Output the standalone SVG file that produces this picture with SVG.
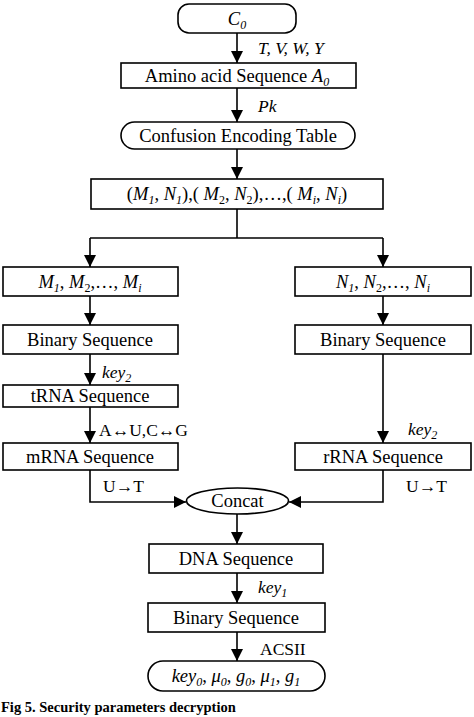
<svg xmlns="http://www.w3.org/2000/svg" width="474" height="717" viewBox="0 0 474 717">
<style>
.box{fill:#fff;stroke:#000;stroke-width:1.6}
.ln{fill:none;stroke:#000;stroke-width:1.6}
.t{font-family:"Liberation Serif","Times New Roman",serif;font-size:18.5px;fill:#000;text-anchor:middle}
.lb{font-family:"Liberation Serif","Times New Roman",serif;font-size:17.5px;fill:#000}
.i{font-style:italic}
.cap{font-family:"Liberation Serif","Times New Roman",serif;font-size:14.5px;font-weight:bold;fill:#000}
</style>
<defs>
<marker id="ah" markerUnits="userSpaceOnUse" markerWidth="12" markerHeight="12" refX="12" refY="6" orient="auto">
<path d="M0,0 L12,6 L0,12 z" fill="#000"/>
</marker>
</defs>
<rect width="474" height="717" fill="#fff"/>

<g id="connectors">
<line class="ln" x1="237" y1="33" x2="237" y2="63" marker-end="url(#ah)"/>
<line class="ln" x1="237" y1="88" x2="237" y2="122" marker-end="url(#ah)"/>
<line class="ln" x1="237" y1="149" x2="237" y2="179" marker-end="url(#ah)"/>
<line class="ln" x1="237" y1="209" x2="237" y2="238"/>
<polyline class="ln" points="90,238 383,238"/>
<line class="ln" x1="90" y1="238" x2="90" y2="267" marker-end="url(#ah)"/>
<line class="ln" x1="383" y1="238" x2="383" y2="267" marker-end="url(#ah)"/>
<line class="ln" x1="90" y1="296" x2="90" y2="325" marker-end="url(#ah)"/>
<line class="ln" x1="383" y1="296" x2="383" y2="325" marker-end="url(#ah)"/>
<line class="ln" x1="90" y1="354" x2="90" y2="385" marker-end="url(#ah)"/>
<line class="ln" x1="90" y1="407" x2="90" y2="443" marker-end="url(#ah)"/>
<line class="ln" x1="383" y1="354" x2="383" y2="443" marker-end="url(#ah)"/>
<polyline class="ln" points="90,470 90,502 186,502" marker-end="url(#ah)"/>
<polyline class="ln" points="383,470 383,502 289,502" marker-end="url(#ah)"/>
<line class="ln" x1="237" y1="514" x2="237" y2="544" marker-end="url(#ah)"/>
<line class="ln" x1="237" y1="573" x2="237" y2="603" marker-end="url(#ah)"/>
<line class="ln" x1="237" y1="632" x2="237" y2="661" marker-end="url(#ah)"/>
</g>

<g id="labels">
<text class="lb i" x="258" y="54">T, V, W, Y</text>
<text class="lb i" x="258" y="112">Pk</text>
<text class="lb" x="102" y="378"><tspan class="i">key</tspan><tspan class="i" font-size="12" dy="4">2</tspan></text>
<text class="lb" x="99" y="436">A↔U,C↔G</text>
<text class="lb" x="408" y="435"><tspan class="i">key</tspan><tspan class="i" font-size="12" dy="4">2</tspan></text>
<text class="lb" x="103" y="492">U→T</text>
<text class="lb" x="406" y="492">U→T</text>
<text class="lb" x="258" y="593"><tspan class="i">key</tspan><tspan class="i" font-size="12" dy="4">1</tspan></text>
<text class="lb" x="260" y="655">ACSII</text>
</g>

<g id="n-c0">
<rect class="box" x="178" y="4" width="118" height="29" rx="11"/>
<text class="t" x="237" y="25"><tspan class="i">C</tspan><tspan class="i" font-size="12" dy="4">0</tspan></text>
</g>
<g id="n-amino">
<rect class="box" x="121" y="63" width="235" height="25"/>
<text class="t" x="237" y="82">Amino acid Sequence <tspan class="i">A</tspan><tspan class="i" font-size="12" dy="4">0</tspan></text>
</g>
<g id="n-table">
<rect class="box" x="121" y="122" width="234" height="27" rx="13.5"/>
<text class="t" x="238" y="142">Confusion Encoding Table</text>
</g>
<g id="n-pairs">
<rect class="box" x="91" y="179" width="292" height="30"/>
<text class="t" x="237" y="200">(<tspan class="i">M</tspan><tspan class="i" font-size="12" dy="4">1</tspan><tspan dy="-4">, </tspan><tspan class="i">N</tspan><tspan class="i" font-size="12" dy="4">1</tspan><tspan dy="-4">),( </tspan><tspan class="i">M</tspan><tspan font-size="12" dy="4">2</tspan><tspan dy="-4">, </tspan><tspan class="i">N</tspan><tspan font-size="12" dy="4">2</tspan><tspan dy="-4">),…,( </tspan><tspan class="i">M</tspan><tspan class="i" font-size="12" dy="4">i</tspan><tspan dy="-4">, </tspan><tspan class="i">N</tspan><tspan class="i" font-size="12" dy="4">i</tspan><tspan dy="-4">)</tspan></text>
</g>
<g id="n-m">
<rect class="box" x="3" y="267" width="175" height="29"/>
<text class="t" x="90" y="288"><tspan class="i">M</tspan><tspan class="i" font-size="12" dy="4">1</tspan><tspan dy="-4">, </tspan><tspan class="i">M</tspan><tspan font-size="12" dy="4">2</tspan><tspan dy="-4">,…, </tspan><tspan class="i">M</tspan><tspan class="i" font-size="12" dy="4">i</tspan></text>
</g>
<g id="n-n">
<rect class="box" x="295" y="267" width="176" height="29"/>
<text class="t" x="383" y="288"><tspan class="i">N</tspan><tspan class="i" font-size="12" dy="4">1</tspan><tspan dy="-4">, </tspan><tspan class="i">N</tspan><tspan font-size="12" dy="4">2</tspan><tspan dy="-4">,…, </tspan><tspan class="i">N</tspan><tspan class="i" font-size="12" dy="4">i</tspan></text>
</g>
<g id="n-bin-l">
<rect class="box" x="3" y="325" width="175" height="29"/>
<text class="t" x="90" y="346">Binary Sequence</text>
</g>
<g id="n-bin-r">
<rect class="box" x="295" y="325" width="176" height="29"/>
<text class="t" x="383" y="346">Binary Sequence</text>
</g>
<g id="n-trna">
<rect class="box" x="3" y="385" width="175" height="22"/>
<text class="t" x="90" y="402">tRNA Sequence</text>
</g>
<g id="n-mrna">
<rect class="box" x="3" y="443" width="175" height="27"/>
<text class="t" x="90" y="463">mRNA Sequence</text>
</g>
<g id="n-rrna">
<rect class="box" x="295" y="443" width="176" height="27"/>
<text class="t" x="383" y="463">rRNA Sequence</text>
</g>
<g id="n-concat">
<ellipse class="box" cx="237.5" cy="501" rx="51" ry="13"/>
<text class="t" x="237.5" y="507">Concat</text>
</g>
<g id="n-dna">
<rect class="box" x="149" y="544" width="174" height="29"/>
<text class="t" x="236" y="565">DNA Sequence</text>
</g>
<g id="n-bin-b">
<rect class="box" x="148" y="603" width="177" height="29"/>
<text class="t" x="236" y="624">Binary Sequence</text>
</g>
<g id="n-params">
<rect class="box" x="148" y="661" width="177" height="30" rx="15"/>
<text class="t" x="236" y="682"><tspan class="i">key</tspan><tspan class="i" font-size="12" dy="4">0</tspan><tspan dy="-4">, </tspan><tspan class="i">μ</tspan><tspan class="i" font-size="12" dy="4">0</tspan><tspan dy="-4">, </tspan><tspan class="i">g</tspan><tspan class="i" font-size="12" dy="4">0</tspan><tspan dy="-4">, </tspan><tspan class="i">μ</tspan><tspan class="i" font-size="12" dy="4">1</tspan><tspan dy="-4">, </tspan><tspan class="i">g</tspan><tspan class="i" font-size="12" dy="4">1</tspan></text>
</g>

<text class="cap" x="1" y="712">Fig 5. Security parameters decryption</text>
</svg>
